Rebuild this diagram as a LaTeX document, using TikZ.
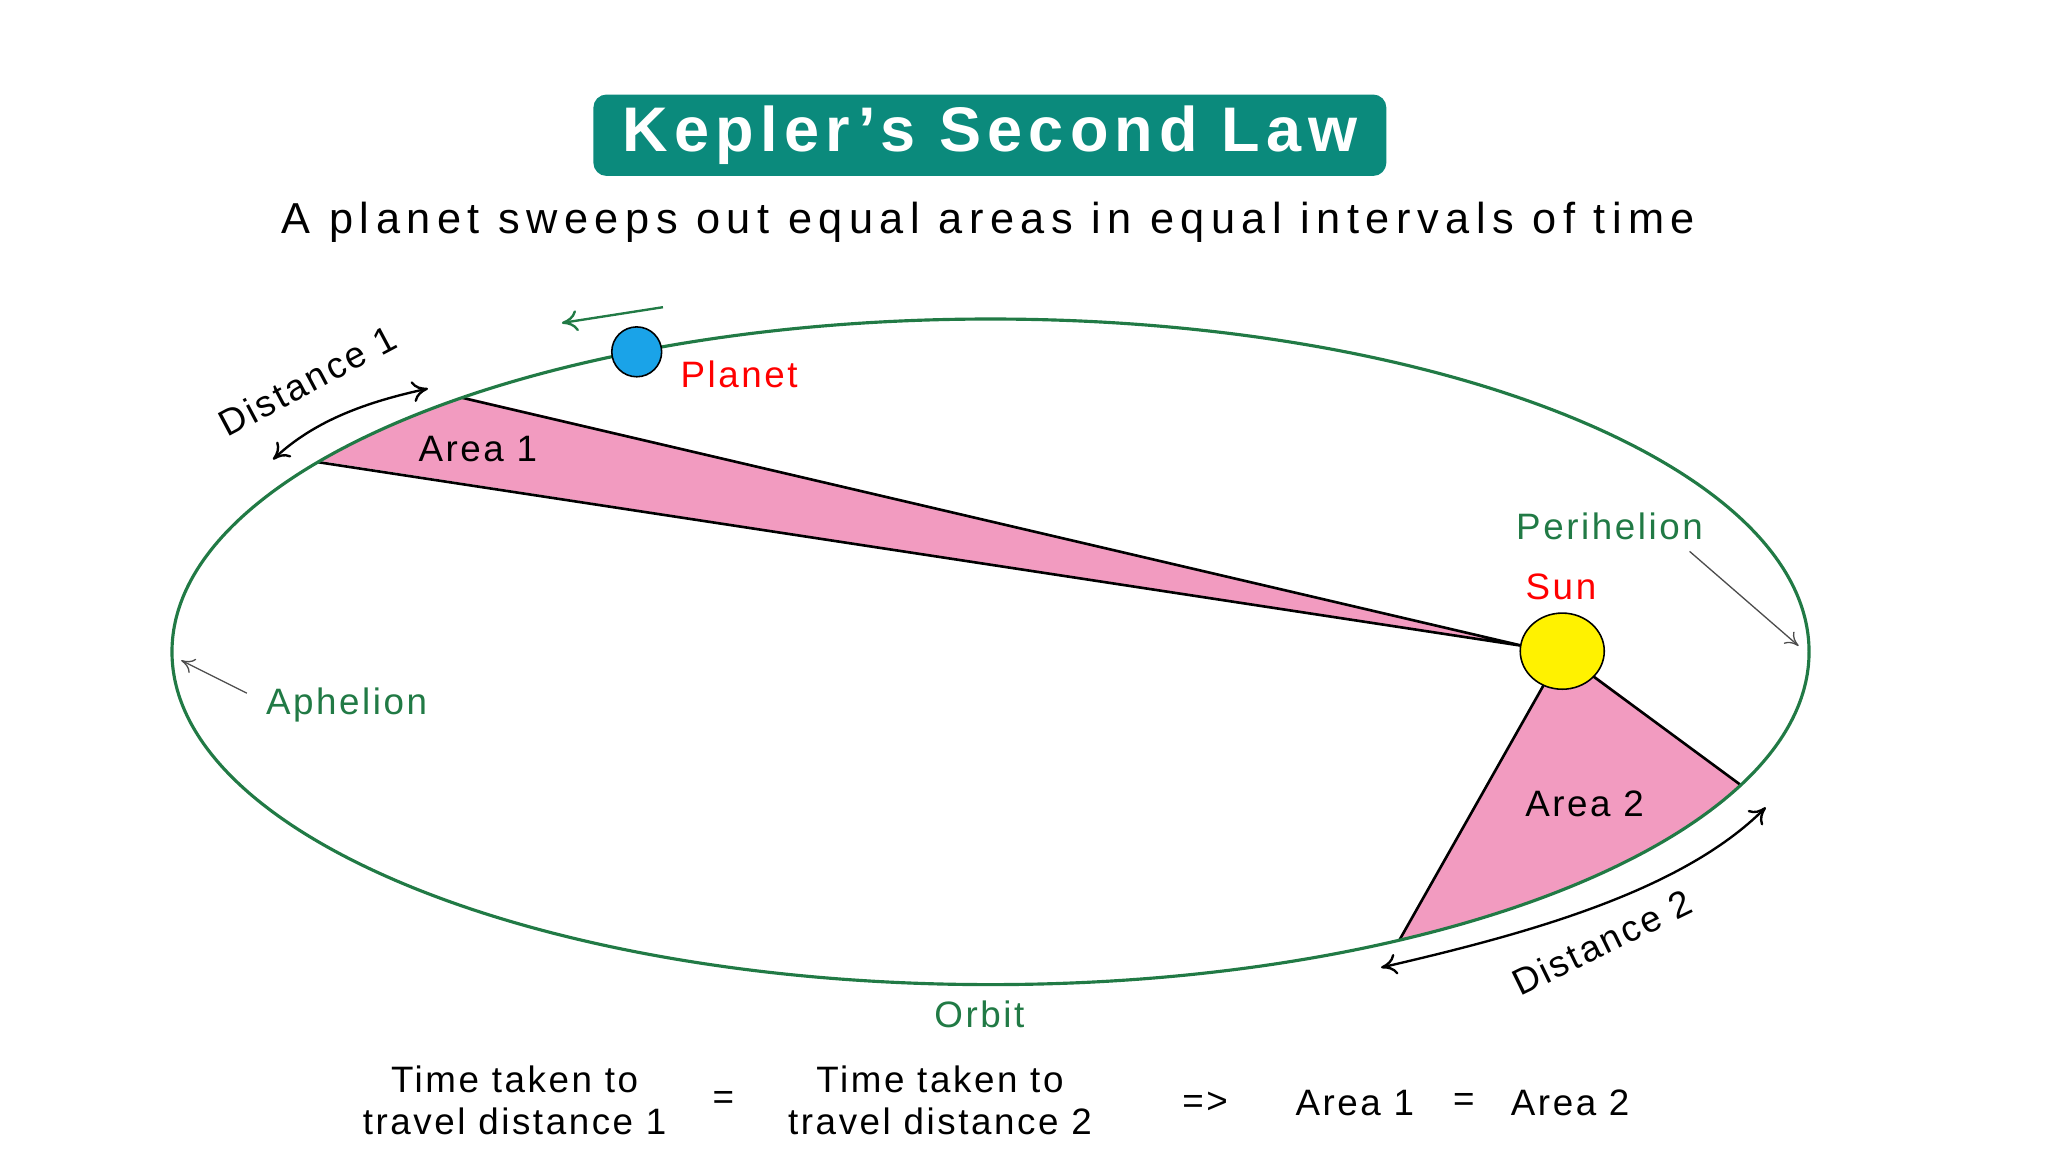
\documentclass[tikz,border=0pt]{standalone}
\usepackage{fontspec}
\setmainfont{Liberation Sans}
\newfontfamily\spaced[LetterSpace=7]{Liberation Sans}
\newfontfamily\wide[LetterSpace=15]{Liberation Sans}
\usetikzlibrary{arrows.meta,shapes.geometric}
\definecolor{teal1}{HTML}{0B8A7C}
\definecolor{orbitg}{HTML}{217A45}
\definecolor{pinkA}{HTML}{F29BC0}
\definecolor{planetb}{HTML}{1AA3E8}
\tikzset{
  lbl/.style={font=\spaced\fontsize{14}{16}\selectfont, inner sep=1pt},
  glbl/.style={lbl, text=orbitg},
  rlbl/.style={lbl, text=red},
  thinarrow/.style={-{To[length=5pt,width=6pt]}, draw=black!70, line width=0.5pt},
  darrow/.style={{To[length=6pt,width=8pt]}-{To[length=6pt,width=8pt]}, line width=0.9pt},
}
\begin{document}
\begin{tikzpicture}[x=0.5pt,y=-0.5pt]
\useasboundingbox (0,0) rectangle (1560,877.5);
\def\cx{754.5}\def\cy{496.5}\def\rx{623.5}\def\ry{253.5}
% areas
\fill[pinkA] (1160,492) -- plot[domain=145:130,samples=30] ({\cx+\rx*cos(\x)},{\cy-\ry*sin(\x)}) -- cycle;
\draw[line width=1pt] (242,352) -- (1160,492) -- (352,303);
\fill[pinkA] (1190,496) -- plot[domain=-60:-23.6,samples=30] ({\cx+\rx*cos(\x)},{\cy-\ry*sin(\x)}) -- cycle;
\coordinate (a2l) at (1066,716);
\coordinate (a2r) at (1326,598);
\draw[line width=1pt] (a2l) -- (1178,518);
\draw[line width=1pt] (a2r) -- (1212,514);
% orbit
\draw[orbitg, line width=1.2pt] (\cx,\cy) ellipse [x radius=\rx, y radius=\ry];
% bodies
\node[ellipse, draw=black, fill=yellow, minimum width=32pt, minimum height=29pt, inner sep=0pt, line width=0.6pt] (sun) at (1190,496) {};
\node[circle, draw=black, fill=planetb, minimum size=19pt, inner sep=0pt, line width=0.6pt] (planet) at (485,268) {};
% title
\node[fill=teal1, rounded corners=5pt, minimum width=302pt, minimum height=31pt, text=white, font=\bfseries\fontsize{24}{27}\selectfont\addfontfeature{LetterSpace=10}] (title) at (754,103) {Kepler’s Second Law};
\node[font=\wide\fontsize{16.5}{18}\selectfont] (sub) at (753,169) {A planet sweeps out equal areas in equal intervals of time};
% labels
\node[rlbl] (planetl) at (563,285) {Planet};
\node[rlbl] (sunl) at (1189,447) {Sun};
\node[glbl] (peri) at (1226,401) {Perihelion};
\node[glbl] (aph) at (264,537) {Aphelion};
\node[glbl] (orbit) at (746,773) {Orbit};
\node[lbl] (area1) at (364,342) {Area 1};
\node[lbl] (area2) at (1207,612) {Area 2};
\node[lbl, rotate=28] (d1) at (234,290) {Distance 1};
\node[lbl, rotate=26] (d2) at (1220,718) {Distance 2};
% arrows
\coordinate (pe1) at (1287,420); \coordinate (pe2) at (1370,492);
\draw[thinarrow] (pe1) -- (pe2);
\coordinate (ap1) at (188,528); \coordinate (ap2) at (138,503);
\draw[thinarrow] (ap1) -- (ap2);
\coordinate (mv1) at (505,234); \coordinate (mv2) at (428,246);
\draw[-{To[length=6pt,width=8pt]}, draw=orbitg, line width=0.9pt] (mv1) -- (mv2);
\coordinate (d1a) at (208,350); \coordinate (d1b) at (326,296);
\draw[darrow] (d1a) .. controls (240,320) and (280,306) .. (d1b);
\coordinate (d2a) at (1052,737); \coordinate (d2b) at (1345,615);
\draw[darrow] (d2a) .. controls (1160,712) and (1280,680) .. (d2b);
% bottom
\node[lbl, align=center] (t1) at (392,838) {Time taken to\\travel distance 1};
\node[lbl] (eq1) at (551,838) {=};
\node[lbl, align=center] (t2) at (716,838) {Time taken to\\travel distance 2};
\node[lbl] (impl) at (918,840) {=>};
\node[lbl] (ar1) at (1032,840) {Area 1};
\node[lbl] (eq2) at (1115,840) {=};
\node[lbl] (ar2) at (1196,840) {Area 2};
\end{tikzpicture}
\end{document}
